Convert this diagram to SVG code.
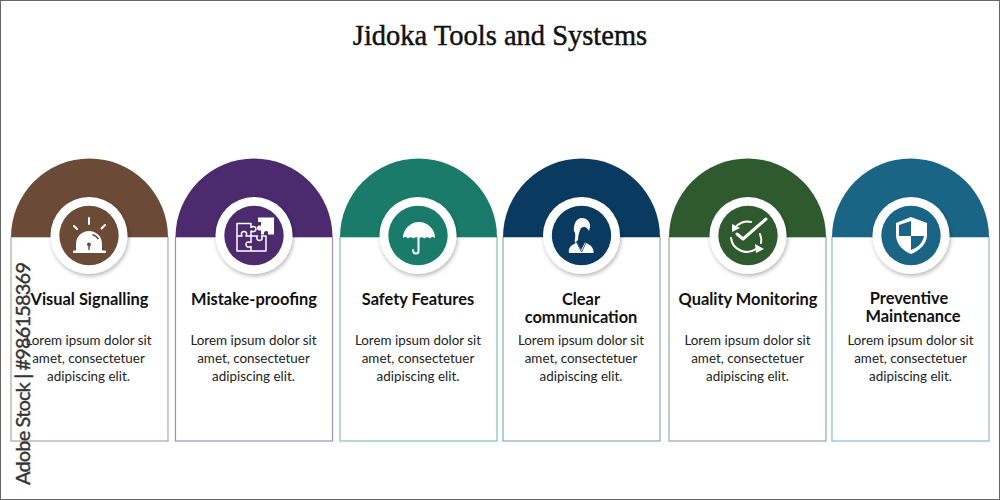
<svg xmlns="http://www.w3.org/2000/svg" width="1000" height="500" viewBox="0 0 1000 500">
<defs>
<filter id="sh" x="-30%" y="-30%" width="160%" height="160%"><feDropShadow dx="1" dy="2" stdDeviation="2" flood-color="#000" flood-opacity="0.3"/></filter>
</defs>
<style>
.title{font-family:"Liberation Serif",serif;font-size:28.5px;fill:#111;stroke:#111;stroke-width:.45px;text-anchor:middle}
.h{font-family:Lato,"Liberation Sans",sans-serif;font-size:16.4px;font-weight:700;fill:#111;text-anchor:middle}
.b{font-family:Lato,"Liberation Sans",sans-serif;font-size:13.4px;fill:#222;text-anchor:middle}
.box{fill:#fff;stroke-width:1.2}
.ring{fill:#fff;filter:url(#sh)}
.w{fill:#fff}
.l{fill:none;stroke:#fff;stroke-linecap:round;stroke-linejoin:round}
.mark{font-family:Lato,"Liberation Sans",sans-serif;font-size:20px;fill:#333;stroke:#333;stroke-width:.4px}
</style>
<rect x="0.500" y="0.500" width="999" height="499" fill="#fff" stroke="#666" stroke-width="1"/>
<text class="title" x="500" y="45">Jidoka Tools and Systems</text>

<g id="node-visual-signalling">
<rect class="box" x="11" y="237" width="157" height="204" stroke="#b5a596"/>
<path d="M11 237A78.500 78.500 0 0 1 168 237Z" fill="#6b4a37"/>
<circle class="ring" cx="89" cy="235.500" r="38.500"/><circle cx="89" cy="235.500" r="29.700" fill="#6b4a37"/>
<path class="w" d="M76 251V244A13 13 0 0 1 102 244V251Z"/>
<rect class="w" x="73" y="250.500" width="33" height="2.500" rx="1"/>
<path d="M88.300 250V245H89.700V250Z" fill="#6b4a37"/><circle cx="89" cy="244.500" r="2" fill="#6b4a37"/>
<path d="M92.500 234.500Q96.500 236 98.500 239" fill="none" stroke="#6b4a37" stroke-width="1.600"/>
<path class="l" stroke-width="2" d="M89 218V224M74 226L77 229M105 225L101.500 228.500"/>
<text class="h" x="89.500" y="305">Visual Signalling</text>
<text class="b" x="88.500" y="345">Lorem ipsum dolor sit</text><text class="b" x="88.500" y="363">amet, consectetuer</text><text class="b" x="88.500" y="381">adipiscing elit.</text>
</g>

<g id="node-mistake-proofing">
<rect class="box" x="175.500" y="237" width="157" height="204" stroke="#a48bbd"/>
<path d="M175.500 237A78.500 78.500 0 0 1 332.500 237Z" fill="#4b2a6e"/>
<circle class="ring" cx="254" cy="235.500" r="38.500"/><circle cx="254" cy="235.500" r="29.700" fill="#4b2a6e"/>
<path class="l" stroke-width="1.500" d="M237 223.500H251V227.500C254 225.500 256 227 256 229C256 231 254 232.500 251 231V236H246C247.500 233 246 231.500 244 231.500C242 231.500 240.500 233 242 236H237ZM237 236V251H251V246.500C247.500 248 246 246.500 246 244.500C246 242.500 247.500 241 251 242.500V236M251 251H266V236H261.500C263 239 261.500 240.500 259.500 240.500C257.500 240.500 256 239 257.500 236H251"/>
<path class="w" d="M258 217.500H274V234.500H268V231.500C265.500 230 263.500 231.500 264 234.500H261V230C258.500 231.500 256.500 229.500 257 227.500C257.500 225.500 259.500 225 261 226V222H258Z"/>
<text class="h" x="254" y="305">Mistake-proofing</text>
<text class="b" x="253.500" y="345">Lorem ipsum dolor sit</text><text class="b" x="253.500" y="363">amet, consectetuer</text><text class="b" x="253.500" y="381">adipiscing elit.</text>
</g>

<g id="node-safety-features">
<rect class="box" x="340" y="237" width="157" height="204" stroke="#86bfb2"/>
<path d="M340 237A78.500 78.500 0 0 1 497 237Z" fill="#1a7b6b"/>
<circle class="ring" cx="418" cy="235.500" r="38.500"/><circle cx="418" cy="235.500" r="29.700" fill="#1a7b6b"/>
<path class="w" d="M403 238A15.500 15.500 0 0 1 435 238Q432 236 430 238.500Q427 236 424.500 238.500Q421.500 236 419 238.500Q416 236 413.500 238.500Q410.500 236 408 238.500Q406 236 403 238Z"/>
<path class="l" stroke-width="2" d="M418.500 238V251Q418.500 253.500 416 253.500Q413 253.500 413 250"/>
<text class="h" x="418" y="305">Safety Features</text>
<text class="b" x="418" y="345">Lorem ipsum dolor sit</text><text class="b" x="418" y="363">amet, consectetuer</text><text class="b" x="418" y="381">adipiscing elit.</text>
</g>

<g id="node-clear-communication">
<rect class="box" x="503" y="237" width="157" height="204" stroke="#8aa8bb"/>
<path d="M503 237A78.500 78.500 0 0 1 660 237Z" fill="#0b3a60"/>
<circle class="ring" cx="581.500" cy="235.500" r="38.500"/><circle cx="581.500" cy="235.500" r="29.700" fill="#0b3a60"/>
<path class="w" d="M582 218C587 218 590.500 222 590 227L589 231C587 227 584 226 581 228C579 232 578 236 578 240L575 243C574 240 576 237 575 233C573 230 574 226 575 223C576 220 579 218 582 218Z"/>
<path class="w" d="M569 253C568 248 571 245 577 242.500L581 250L585 242.500C591 245 594 248 593.500 253Z"/>
<path d="M577 243L581.500 252L586 243M579.500 243L581.500 247L583.500 243" fill="none" stroke="#0b3a60" stroke-width=".8"/>
<text class="h" x="581" y="305">Clear</text><text class="h" x="581" y="323">communication</text>
<text class="b" x="581" y="345">Lorem ipsum dolor sit</text><text class="b" x="581" y="363">amet, consectetuer</text><text class="b" x="581" y="381">adipiscing elit.</text>
</g>

<g id="node-quality-monitoring">
<rect class="box" x="669" y="237" width="157" height="204" stroke="#8fae8f"/>
<path d="M669 237A78.500 78.500 0 0 1 826 237Z" fill="#2f5a2f"/>
<circle class="ring" cx="748" cy="235.500" r="38.500"/><circle cx="748" cy="235.500" r="29.700" fill="#2f5a2f"/>
<path class="l" stroke-width="3" d="M737 234L743 239L766 219"/>
<path class="l" stroke-width="2" d="M735 228A15 15 0 0 1 751 222M731 238A16 16 0 0 0 756 249M760 234Q762 239 761 243"/>
<path class="w" d="M732 224L740 228L732 232ZM755 244L764 249L756 253Z"/>
<text class="h" x="748" y="305">Quality Monitoring</text>
<text class="b" x="747.500" y="345">Lorem ipsum dolor sit</text><text class="b" x="747.500" y="363">amet, consectetuer</text><text class="b" x="747.500" y="381">adipiscing elit.</text>
</g>

<g id="node-preventive-maintenance">
<rect class="box" x="832" y="237" width="157" height="204" stroke="#8db7cb"/>
<path d="M832 237A78.500 78.500 0 0 1 989 237Z" fill="#1a6585"/>
<circle class="ring" cx="911" cy="235.500" r="38.500"/><circle cx="911" cy="235.500" r="29.700" fill="#1a6585"/>
<path class="w" d="M911 217L927 223V235C927 244 919 251 911 254C903 251 896 244 896 235V223Z"/>
<path d="M911 221V236H899V225ZM911 236H924C923 243 917 248 911 250Z" fill="#1a6585"/>
<text class="h" x="909" y="304">Preventive</text><text class="h" x="913" y="322">Maintenance</text>
<text class="b" x="910.500" y="345">Lorem ipsum dolor sit</text><text class="b" x="910.500" y="363">amet, consectetuer</text><text class="b" x="910.500" y="381">adipiscing elit.</text>
</g>

<g id="connectors"></g>
<text class="mark" transform="translate(29.500 485) rotate(-90)" textLength="223">Adobe Stock | #986158369</text>
</svg>
